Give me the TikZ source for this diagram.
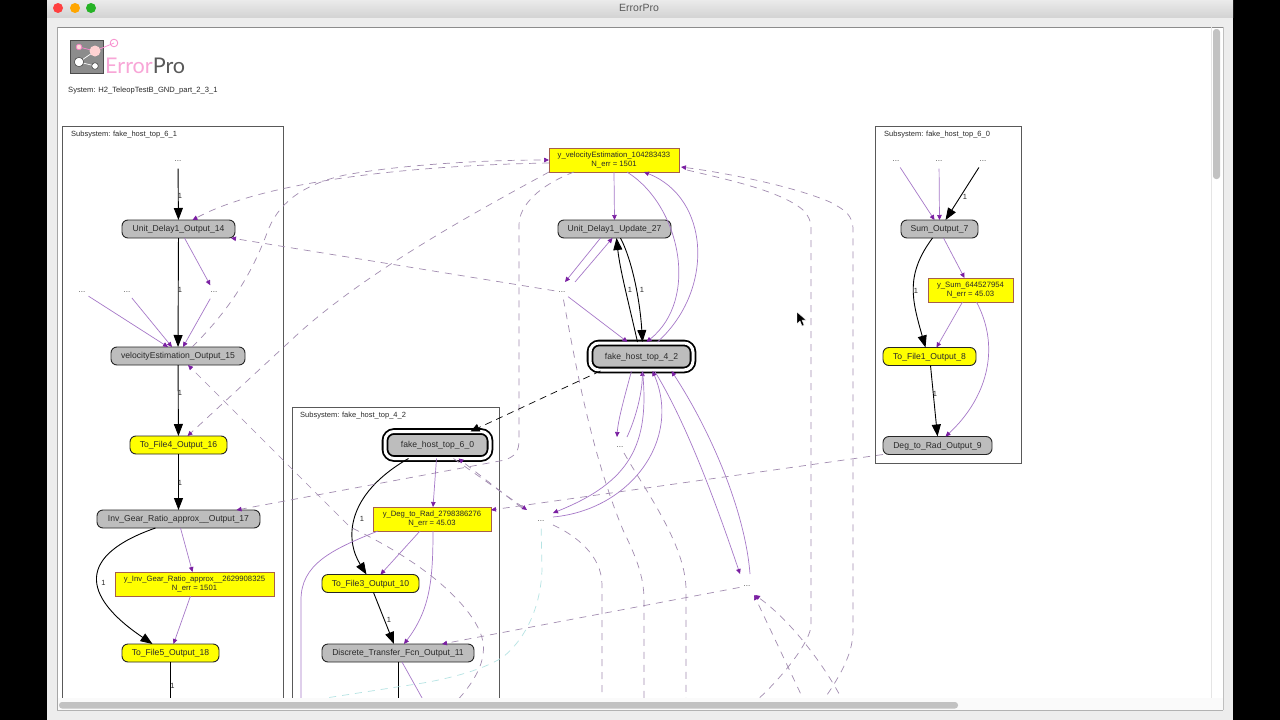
\documentclass[tikz,border=0pt]{standalone}
\usepackage{fontspec}
\setmainfont{Liberation Sans}
\newfontfamily\logofont{Lato}
\usetikzlibrary{arrows.meta,calc}
\definecolor{nodegray}{HTML}{BDBDBD}
\definecolor{nodeyellow}{HTML}{FFFF00}
\definecolor{boxedge}{HTML}{A5604A}
\definecolor{sigline}{HTML}{A678C8}
\definecolor{tippurple}{HTML}{7A1FA2}
\definecolor{dashline}{HTML}{A28CB0}
\definecolor{cyanline}{HTML}{B5E3E3}
\definecolor{txt}{HTML}{2A2A2A}
\tikzset{
  nodelab/.style={font=\fontsize{8.6}{10}\selectfont,text=txt,text height=6.3pt,text depth=.8pt},
  gn/.style={rectangle,rounded corners=6pt,draw=black!85,line width=.9pt,fill=nodegray,inner sep=0pt,outer sep=0pt,minimum height=18pt,nodelab},
  yn/.style={gn,fill=nodeyellow},
  yb/.style={rectangle,draw=boxedge,line width=.9pt,fill=nodeyellow,inner sep=0pt,outer sep=0pt,minimum height=24pt,align=center,font=\fontsize{7.7}{8.3}\selectfont,text=txt},
  hubnode/.style={rectangle,rounded corners=9pt,draw=black,line width=1.8pt,double=white,double distance=3pt,fill=nodegray,inner sep=0pt,outer sep=3pt,nodelab},
  subsys/.style={rectangle,draw=black!65,line width=1.2pt,anchor=north west,inner sep=0pt},
  subtitle/.style={anchor=west,font=\fontsize{7.5}{9}\selectfont,text=txt,inner sep=0pt},
  elide/.style={circle,minimum size=15pt,inner sep=0pt,font=\fontsize{8}{8}\selectfont,text=black!70},
  onelab/.style={font=\fontsize{7.5}{9}\selectfont,text=txt,inner sep=0pt},
  flow/.style={black,line width=.9pt,-{Triangle[length=12pt,width=9pt]}},
  flowline/.style={black,line width=.9pt},
  sig/.style={sigline,line width=.7pt,-{Triangle[length=5pt,width=4.5pt,color=tippurple]}},
  dsig/.style={sig,draw=dashline,dash pattern=on 7pt off 6pt},
  dcy/.style={cyanline,line width=.7pt,dash pattern=on 7pt off 6pt},
  dplain/.style={dashline,line width=.7pt,dash pattern=on 7pt off 6pt},
  dflow/.style={black,line width=.7pt,dash pattern=on 7pt off 5pt,-{Triangle[length=9pt,width=8pt]}},
}
\begin{document}
\begin{tikzpicture}[x=1pt,y=-1pt]
\useasboundingbox (0,0) rectangle (1280,720);
\fill[black] (0,0) rectangle (1280,720);
% window
\fill[black!7] (47,0) rectangle (1233,720);
\shade[top color=black!8,bottom color=black!17] (47,0) rectangle (1233,17);
\fill[white] (57,27) rectangle (1223,710);
\draw[black!45,line width=.8pt] (57,27) -- (1223,27);
\draw[black!35,line width=.6pt] (57,27) -- (57,710);
\draw[black!25,line width=.6pt] (1223,27) -- (1223,710);
\draw[black!10,line width=.6pt] (1211,27) -- (1211,698);
\fill[red!75!white] (58,8) circle (5);
\fill[orange!70!yellow] (75,8) circle (5);
\fill[green!65!black!85!white] (91,8) circle (5);
\node[font=\fontsize{10.5}{12}\selectfont,text=black!65] (wintitle) at (639,8) {ErrorPro};
% logo
\fill[black!45,draw=black!70,line width=.8pt] (70,40) rectangle (103.5,73);
\draw[white,line width=.7pt] (79,62) -- (95,66) (79,62) -- (95,51);
\draw[pink!70!magenta,line width=.7pt] (79,47) -- (95,51) -- (114,43);
\fill[pink!70!white] (95,51) circle (5.5);
\fill[pink!60!white,draw=magenta!50,line width=.7pt] (79,47) circle (2.8);
\fill[white,draw=black!70,line width=.6pt] (79,62) circle (4.7);
\fill[white,draw=black!70,line width=.6pt] (95,66) circle (3.3);
\draw[magenta!45,line width=.8pt] (114,43) circle (3.8);
\node[anchor=base west,inner sep=0pt,font=\logofont\fontsize{21.6}{24}\selectfont] (logotext) at (105,73) {\textcolor{magenta!35}{Error}\textcolor{black!65}{Pro}};
\node[anchor=west,inner sep=0pt,font=\fontsize{7.6}{9}\selectfont,text=txt] (systitle) at (68,91) {System: H2\_TeleopTestB\_GND\_part\_2\_3\_1};
\begin{scope}
\clip (58,28) rectangle (1211,698);
% subsystems
\node[subsys,minimum width=221pt,minimum height=640pt] (s61) at (62,126) {};
\node[subsys,minimum width=207pt,minimum height=340pt] (s42) at (292,407) {};
\node[subsys,minimum width=146pt,minimum height=337pt] (s60) at (875,126) {};
\node[subtitle] (s61t) at (71,134.5) {Subsystem: fake\_host\_top\_6\_1};
\node[subtitle] (s42t) at (300,415.5) {Subsystem: fake\_host\_top\_4\_2};
\node[subtitle] (s60t) at (884,134.5) {Subsystem: fake\_host\_top\_6\_0};
% nodes
\node[gn,minimum width=113pt] (u14) at (178.5,229) {Unit\_Delay1\_Output\_14};
\node[gn,minimum width=134pt] (ve15) at (178,356) {velocityEstimation\_Output\_15};
\node[yn,minimum width=97pt] (tf16) at (178.5,445) {To\_File4\_Output\_16};
\node[gn,minimum width=163pt] (ig17) at (178.5,519) {Inv\_Gear\_Ratio\_approx\_\_Output\_17};
\node[yb,minimum width=159pt] (yig) at (194.5,584) {y\_Inv\_Gear\_Ratio\_approx\_\_2629908325\\N\_err = 1501};
\node[yn,minimum width=97pt] (tf5) at (170.5,653) {To\_File5\_Output\_18};
\node[hubnode,minimum width=105pt,minimum height=27pt] (h60) at (437.5,445) {fake\_host\_top\_6\_0};
\node[yb,minimum width=118pt] (ydr) at (432,519) {y\_Deg\_to\_Rad\_2798386276\\N\_err = 45.03};
\node[yn,minimum width=97pt] (tf3) at (370.5,583.5) {To\_File3\_Output\_10};
\node[gn,minimum width=152pt] (disc) at (398,653) {Discrete\_Transfer\_Fcn\_Output\_11};
\node[yb,minimum width=130pt] (yv) at (614,160) {y\_velocityEstimation\_104283433\\N\_err = 1501};
\node[gn,minimum width=113pt] (u27) at (614.5,229) {Unit\_Delay1\_Update\_27};
\node[hubnode,minimum width=103pt,minimum height=27pt] (h42) at (641.5,356.5) {fake\_host\_top\_4\_2};
\node[gn,minimum width=77pt] (sum7) at (939.5,229) {Sum\_Output\_7};
\node[yb,minimum width=85pt] (ysum) at (970.5,290) {y\_Sum\_644527954\\N\_err = 45.03};
\node[yn,minimum width=93pt] (tf1) at (929.5,356.5) {To\_File1\_Output\_8};
\node[gn,minimum width=109pt] (dg9) at (937.5,445.5) {Deg\_to\_Rad\_Output\_9};
% elided
\node[elide] (d0) at (178,161) {...};
\node[elide] (d1) at (82,292) {...};
\node[elide] (d2) at (127,292) {...};
\node[elide] (d3) at (214,292) {...};
\node[elide] (d4) at (562,292) {...};
\node[elide] (d5) at (541,521) {...};
\node[elide] (d6) at (620,447) {...};
\node[elide] (d7) at (747,586) {...};
\node[elide] (d8) at (896,161) {...};
\node[elide] (d9) at (939,161) {...};
\node[elide] (d10) at (983,161) {...};
% left subsystem
\draw[flow] (d0) -- (u14);
\draw[flow] (u14) -- (ve15);
\draw[flow] (ve15) -- (tf16);
\draw[flow] (tf16) -- (ig17);
\draw[sig] ($(u14.south)+(6,0)$) -- (d3);
\draw[sig] (d1) -- ($(ve15.north)+(-10,0)$);
\draw[sig] (d2) -- ($(ve15.north)+(-6,0)$);
\draw[sig] (d3) -- ($(ve15.north)+(5,0)$);
\draw[sig] ($(ig17.south)+(2,0)$) -- ($(yig.north)+(-2,0)$);
\draw[sig] ($(yig.south)+(-4,0)$) -- ($(tf5.north)+(3,0)$);
\draw[flow] ($(ig17.south)+(-23,0)$) .. controls (78,555) and (80,595) .. ($(tf5.north)+(-18,0)$);
\coordinate (e5) at (170.5,705);
\draw[flowline] (tf5) -- (e5);
% centre subsystem
\draw[sig] ($(h60.south)+(-1,-3)$) -- ($(ydr.north)+(1,0)$);
\draw[flow] ($(h60.south)+(-29,-3)$) .. controls (345,495) and (345,540) .. ($(tf3.north)+(-4,0)$);
\draw[sig] ($(ydr.south)+(-12,0)$) -- ($(tf3.north)+(10,0)$);
\draw[sig] ($(ydr.south)+(1,0)$) .. controls (433,580) and (430,610) .. ($(disc.north)+(6,0)$);
\draw[flow] ($(tf3.south)+(3,0)$) -- ($(disc.north)+(-4,0)$);
\coordinate (e6) at (398,705);
\coordinate (e7) at (426,705);
\coordinate (e8) at (301,705);
\draw[flowline] (disc) -- (e6);
\draw[sigline,line width=.7pt] ($(disc.south)+(4,0)$) -- (e7);
\draw[sigline,line width=.7pt] ($(ydr.south west)+(5,0)$) .. controls (330,550) and (301,565) .. (301,600) -- (e8);
% y_velocity group
\draw[sig] (yv.south) -- (u27.north);
\draw[sig] ($(yv.south)+(13,0)$) .. controls (680,205) and (700,299) .. ($(h42.north)+(5,2)$);
\draw[sig] ($(h42.north)+(16,2)$) .. controls (715,290) and (710,198) .. ($(yv.south)+(30,0)$);
\draw[sig] ($(u27.south)+(-14,0)$) -- ($(d4)+(3,-10)$);
\draw[sig] ($(d4)+(13,-10)$) -- ($(u27.south)+(-2,0)$);
\draw[sig] (d4) -- ($(h42.north)+(-14,2)$);
\draw[flow] ($(h42.north)+(-4,2)$) .. controls (628,300) and (620,270) .. ($(u27.south)+(2,0)$);
\draw[flow] ($(u27.south)+(6,0)$) .. controls (632,260) and (640,300) .. ($(h42.north)+(1,2)$);
\node[onelab] (l7) at (630,290) {1};
\node[onelab] (l8) at (642,290) {1};
\draw[sig] ($(h42.south)+(-10,-2)$) .. controls (625,395) and (618,420) .. ($(d6)+(-3,-10)$);
\draw[sig] ($(d6)+(7,-10)$) .. controls (635,420) and (642,395) .. ($(h42.south)+(1,-2)$);
\draw[sig] ($(h42.south)+(1,-2)$) .. controls (650,445) and (630,482) .. ($(d5)+(12,-8)$);
\draw[sig] ($(d5)+(12,-4)$) .. controls (630,510) and (682,440) .. ($(h42.south)+(11,-2)$);
\draw[sig] ($(h42.south)+(13,-2)$) .. controls (685,420) and (715,500) .. ($(d7)+(-7,-12)$);
\draw[sig] ($(d7)+(3,-12)$) .. controls (745,510) and (710,430) .. ($(h42.south)+(30,-2)$);
% right subsystem
\draw[sig] (d8) -- ($(sum7.north)+(-5,0)$);
\draw[sig] (d9) -- (sum7.north);
\draw[flow] (d10) -- ($(sum7.north)+(6,0)$);
\draw[sig] ($(sum7.south)+(4,0)$) -- ($(ysum.north)+(-6,0)$);
\draw[flow] ($(sum7.south)+(-7,0)$) .. controls (905,275) and (912,300) .. ($(tf1.north)+(-4,0)$);
\draw[sig] ($(ysum.south)+(-8,0)$) -- ($(tf1.north)+(7,0)$);
\draw[sig] ($(ysum.south)+(6,0)$) .. controls (1002,350) and (985,400) .. ($(dg9.north)+(8,0)$);
\draw[flow] ($(tf1.south)+(1,0)$) -- (dg9.north);
% dashed links
\draw[dsig] ($(yv.west)+(0,3)$) .. controls (430,165) and (270,178) .. ($(u14.north)+(14,0)$);
\draw[dsig] ($(ve15.north)+(14,0)$) .. controls (235,305) and (255,265) .. (267,233) .. controls (277,205) and (300,185) .. (345,175) .. controls (400,165) and (480,160) .. (yv.west);
\draw[dsig] (d4) -- ($(u14.south east)+(-4,0)$);
\draw[dsig] (yv.south west) .. controls (470,215) and (370,270) .. (300,332) -- ($(tf16.north)+(9,0)$);
\coordinate (e1) at (450,708);
\draw[dsig] (e1) .. controls (478,680) and (490,655) .. (480,632) .. controls (472,612) and (440,570) .. (350,527) -- ($(ve15.south)+(10,0)$);
\draw[dsig] ($(yv.south)+(-40,0)$) .. controls (540,185) and (519,205) .. (519,225) -- (519,440) .. controls (519,452) and (515,456) .. (505,460) -- ($(ig17.north)+(58,0)$);
\draw[dflow] ($(h42.south)+(-41,-2)$) -- ($(h60.north)+(33,3)$);
\draw[dsig] (dg9.south west) -- ($(ydr.east)+(0,-9)$);
\draw[dsig] ($(h60.south)+(16,-3)$) -- ($(d5)+(-14,-11)$);
\draw[dsig] ($(d5)+(-19,-13)$) -- ($(h60.south)+(21,-3)$);
\coordinate (e2) at (300,702);
\draw[dcy] (d5) -- (542,570) .. controls (541,600) and (530,635) .. (503,657) .. controls (480,672) and (440,680) .. (423,683) -- (e2);
\coordinate (e3) at (602,705);
\draw[dplain] ($(d5)+(12,4)$) .. controls (575,535) and (602,555) .. (602,585) -- (e3);
\coordinate (e4) at (644,705);
\draw[dplain] (d4) .. controls (575,360) and (590,450) .. (623,530) .. controls (635,555) and (644,575) .. (644,600) -- (e4);
\coordinate (e9) at (686,705);
\draw[dplain] ($(d6)+(4,6)$) .. controls (645,490) and (686,545) .. (686,590) -- (e9);
\draw[dsig] (d7) -- ($(disc.north)+(44,0)$);
\coordinate (e10) at (755,702);
\draw[dplain] ($(yv.east)+(8,10)$) .. controls (720,178) and (780,190) .. (803,210) .. controls (808,215) and (811,220) .. (811,230) -- (811,625) .. controls (811,640) and (785,675) .. (e10);
\coordinate (e11) at (820,705);
\draw[dsig] (e11) .. controls (845,670) and (853,650) .. (853,630) -- (853,230) .. controls (853,215) and (845,210) .. (830,202) .. controls (790,185) and (720,172) .. ($(yv.east)+(2,7)$);
\coordinate (e12) at (806,705);
\coordinate (e13) at (845,705);
\draw[dsig] (e12) -- ($(d7)+(7,9)$);
\draw[dsig] (e13) .. controls (825,665) and (790,620) .. ($(d7)+(8,9)$);
% labels 1
\node[onelab] (l1) at (180,196) {1};
\node[onelab] (l2) at (180,290) {1};
\node[onelab] (l3) at (180,393) {1};
\node[onelab] (l4) at (180,483) {1};
\node[onelab] (l5) at (103.5,583) {1};
\node[onelab] (l6) at (172.5,686) {1};
\node[onelab] (l9) at (362,519) {1};
\node[onelab] (l10) at (389,620) {1};
\node[onelab] (l11) at (965,197) {1};
\node[onelab] (l12) at (916,291) {1};
\node[onelab] (l13) at (935,394) {1};
\end{scope}
% scrollbars
\fill[black!2] (58,698) rectangle (1223,710);
\draw[black!30,line width=.7pt] (57,710) -- (1223,710);
\fill[black!24,rounded corners=3pt] (59,702) rectangle (958,708.5);
\fill[black!24,rounded corners=3pt] (1213,29) rectangle (1220,179);
% cursor
\fill[black,draw=white,line width=.4pt] (797,312) -- (797,324) -- (800,321) -- (802,326) -- (804,325) -- (802,320) -- (806,320) -- cycle;
\end{tikzpicture}
\end{document}
